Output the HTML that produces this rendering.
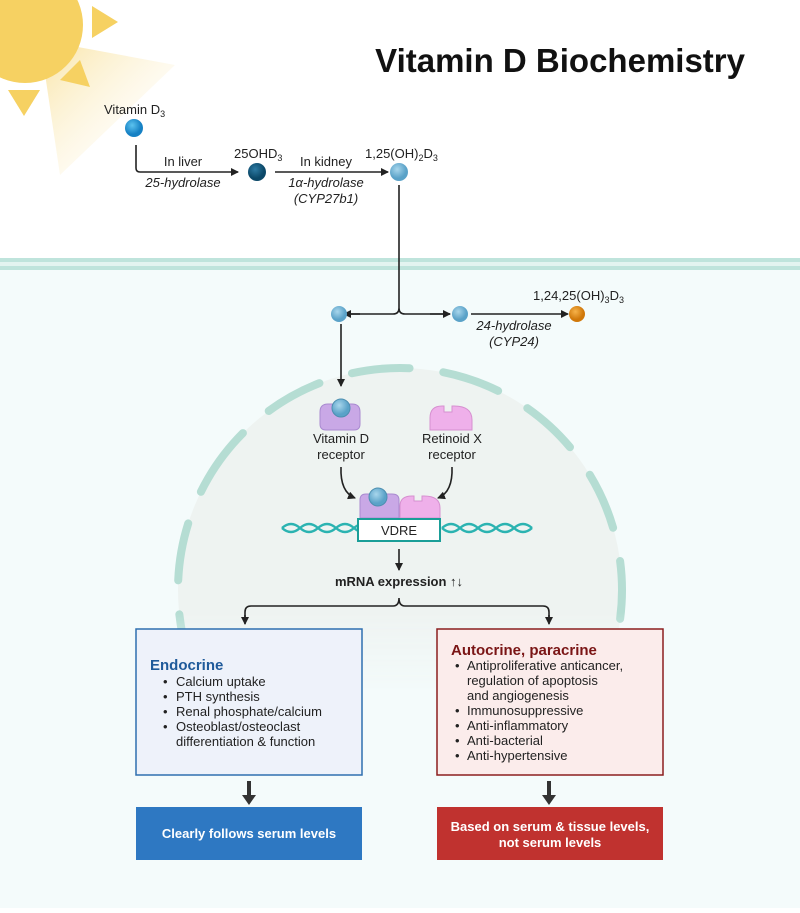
<!DOCTYPE html>
<html><head><meta charset="utf-8"><style>
body{margin:0;width:800px;height:908px;overflow:hidden;background:#fff;font-family:"Liberation Sans",sans-serif}
text{font-family:"Liberation Sans",sans-serif}
</style></head><body>
<svg width="800" height="908" viewBox="0 0 800 908" xmlns="http://www.w3.org/2000/svg">
<defs>
<marker id="a" markerWidth="8" markerHeight="8" refX="7" refY="4" orient="auto" markerUnits="userSpaceOnUse"><path d="M0,0L8,4L0,8z" fill="#222"/></marker>
<linearGradient id="ray" x1="0" y1="0" x2="1" y2="1"><stop offset="0" stop-color="#f7dc8a" stop-opacity=".8"/><stop offset="1" stop-color="#fff" stop-opacity="0"/></linearGradient>
<linearGradient id="fade" x1="0" y1="0" x2="0" y2="1"><stop offset="0.55" stop-color="#fff"/><stop offset="0.72" stop-color="#000"/></linearGradient>
<mask id="m" maskUnits="userSpaceOnUse" x="0" y="360" width="800" height="460"><rect x="0" y="360" width="800" height="460" fill="url(#fade)"/></mask>
<radialGradient id="b1" cx=".4" cy=".35"><stop offset="0" stop-color="#5cc3ef"/><stop offset="1" stop-color="#1681c4"/></radialGradient>
<radialGradient id="b2" cx=".4" cy=".35"><stop offset="0" stop-color="#2d7aa3"/><stop offset="1" stop-color="#0b4868"/></radialGradient>
<radialGradient id="b3" cx=".4" cy=".35"><stop offset="0" stop-color="#a8d6ec"/><stop offset="1" stop-color="#5aa2c8"/></radialGradient>
<radialGradient id="b4" cx=".4" cy=".35"><stop offset="0" stop-color="#f6b24a"/><stop offset="1" stop-color="#d0780a"/></radialGradient>
</defs>
<!-- sun -->
<polygon points="40,40 175,65 60,175" fill="url(#ray)"/>
<circle cx="25" cy="25" r="58" fill="#f6d162"/>
<polygon points="92,6 118,22 92,38" fill="#f6d162"/>
<polygon points="60,80 90,87 80,60" fill="#f6d162"/>
<polygon points="8,90 40,90 24,116" fill="#f6d162"/>
<text x="745" y="72" text-anchor="end" font-size="33" font-weight="bold" fill="#111">Vitamin D Biochemistry</text>
<!-- top pathway -->
<text x="104" y="114" font-size="13" fill="#222">Vitamin D<tspan font-size="9" dy="3">3</tspan></text>
<circle cx="134" cy="128" r="9" fill="url(#b1)"/>
<path d="M136,145 V168 Q136,172 140,172 H238" stroke="#222" stroke-width="1.6" fill="none" marker-end="url(#a)"/>
<text x="183" y="166" font-size="13" text-anchor="middle" fill="#222">In liver</text>
<text x="183" y="187" font-size="13" font-style="italic" text-anchor="middle" fill="#222">25-hydrolase</text>
<text x="234" y="158" font-size="13" fill="#222">25OHD<tspan font-size="9" dy="3">3</tspan></text>
<circle cx="257" cy="172" r="9" fill="url(#b2)"/>
<path d="M275,172 H388" stroke="#222" stroke-width="1.6" fill="none" marker-end="url(#a)"/>
<text x="326" y="166" font-size="13" text-anchor="middle" fill="#222">In kidney</text>
<text x="326" y="187" font-size="13" font-style="italic" text-anchor="middle" fill="#222">1α-hydrolase</text>
<text x="326" y="203" font-size="13" font-style="italic" text-anchor="middle" fill="#222">(CYP27b1)</text>
<text x="365" y="158" font-size="13" fill="#222">1,25(OH)<tspan font-size="9" dy="3">2</tspan><tspan dy="-3">D</tspan><tspan font-size="9" dy="3">3</tspan></text>
<circle cx="399" cy="172" r="9" fill="url(#b3)"/>
<!-- membrane -->
<rect x="0" y="268" width="800" height="640" fill="#f4fbfb"/>
<rect x="0" y="258" width="800" height="12" fill="#bfe4dc"/>
<rect x="0" y="262" width="800" height="4" fill="#e3f4f0"/>
<path d="M399,185 V308 Q399,314 393,314 H344 M399,308 Q399,314 405,314 H450" stroke="#222" stroke-width="1.6" fill="none"/>
<path d="M360,314 H344" stroke="#222" stroke-width="1.6" marker-end="url(#a)"/>
<path d="M430,314 H450" stroke="#222" stroke-width="1.6" marker-end="url(#a)"/>
<circle cx="339" cy="314" r="8" fill="url(#b3)"/>
<circle cx="460" cy="314" r="8" fill="url(#b3)"/>
<path d="M471,314 H568" stroke="#222" stroke-width="1.6" marker-end="url(#a)"/>
<circle cx="577" cy="314" r="8" fill="url(#b4)"/>
<text x="533" y="300" font-size="13" fill="#222">1,24,25(OH)<tspan font-size="9" dy="3">3</tspan><tspan dy="-3">D</tspan><tspan font-size="9" dy="3">3</tspan></text>
<text x="514" y="330" font-size="13" font-style="italic" text-anchor="middle" fill="#222">24-hydrolase</text>
<text x="514" y="346" font-size="13" font-style="italic" text-anchor="middle" fill="#222">(CYP24)</text>
<!-- nucleus -->
<g mask="url(#m)">
<circle cx="400" cy="590" r="222" fill="#eef3f1"/>
<circle cx="400" cy="590" r="222" fill="none" stroke="#b5ddd3" stroke-width="8" stroke-linecap="round" stroke-dasharray="58 34" transform="rotate(-150 400 590)"/>
</g>
<path d="M341,324 V386" stroke="#222" stroke-width="1.6" marker-end="url(#a)"/>
<!-- receptors -->
<path d="M320,412 Q320,404 328,404 H352 Q360,404 360,412 V424 Q360,430 354,430 H326 Q320,430 320,424 Z" fill="#c9a8e6" stroke="#a98ad0"/>
<circle cx="341" cy="408" r="9" fill="url(#b3)" stroke="#4d8fb0"/>
<text x="341" y="443" font-size="13" text-anchor="middle" fill="#222">Vitamin D</text>
<text x="341" y="459" font-size="13" text-anchor="middle" fill="#222">receptor</text>
<path d="M430,430 V418 Q430,406 442,406 H444 V412 H452 V406 H454 Q472,406 472,420 V430 Z" fill="#efb0ea" stroke="#d690d0"/>
<text x="452" y="443" font-size="13" text-anchor="middle" fill="#222">Retinoid X</text>
<text x="452" y="459" font-size="13" text-anchor="middle" fill="#222">receptor</text>
<path d="M341,467 Q340,492 355,498" stroke="#222" stroke-width="1.6" fill="none" marker-end="url(#a)"/>
<path d="M452,467 Q453,492 438,498" stroke="#222" stroke-width="1.6" fill="none" marker-end="url(#a)"/>
<path d="M360,500 Q360,494 366,494 H392 Q399,494 399,500 V518 H360 Z" fill="#c9a8e6" stroke="#a98ad0"/>
<circle cx="378" cy="497" r="9" fill="url(#b3)" stroke="#4d8fb0"/>
<path d="M400,518 V506 Q400,496 412,496 H414 V501 H422 V496 H424 Q440,496 440,508 V518 Z" fill="#efb0ea" stroke="#d690d0"/>
<!-- DNA -->
<g stroke="#2bb3b1" stroke-width="2.5" fill="none">
<path d="M282,528 q9,-8 18,0 t18,0 t18,0 t18,0 t18,0"/>
<path d="M282,528 q9,8 18,0 t18,0 t18,0 t18,0 t18,0"/>
<path d="M442,528 q9,-8 18,0 t18,0 t18,0 t18,0 t18,0"/>
<path d="M442,528 q9,8 18,0 t18,0 t18,0 t18,0 t18,0"/>
</g>
<rect x="358" y="519" width="82" height="22" fill="#fff" stroke="#1a9e98" stroke-width="2"/>
<text x="399" y="535" font-size="13" text-anchor="middle" fill="#222">VDRE</text>
<path d="M399,549 V570" stroke="#222" stroke-width="1.6" marker-end="url(#a)"/>
<text x="399" y="586" font-size="13" font-weight="bold" text-anchor="middle" fill="#222">mRNA expression ↑↓</text>
<path d="M245,620 V612 Q245,606 251,606 H393 Q399,606 399,598 Q399,606 405,606 H543 Q549,606 549,612 V620" stroke="#222" stroke-width="1.6" fill="none"/>
<path d="M245,615 V624" stroke="#222" stroke-width="1.6" marker-end="url(#a)"/>
<path d="M549,615 V624" stroke="#222" stroke-width="1.6" marker-end="url(#a)"/>
<!-- boxes -->
<rect x="136" y="629" width="226" height="146" fill="#eef2fa" stroke="#2f6fb0" stroke-width="1.5"/>
<text x="150" y="670" font-size="15" font-weight="bold" fill="#1f5a9a">Endocrine</text>
<g font-size="13" fill="#222">
<text x="163" y="686">•</text><text x="176" y="686">Calcium uptake</text>
<text x="163" y="701">•</text><text x="176" y="701">PTH synthesis</text>
<text x="163" y="716">•</text><text x="176" y="716">Renal phosphate/calcium</text>
<text x="163" y="731">•</text><text x="176" y="731">Osteoblast/osteoclast</text>
<text x="176" y="746">differentiation &amp; function</text>
</g>
<rect x="437" y="629" width="226" height="146" fill="#fbeceb" stroke="#8b1e1e" stroke-width="1.5"/>
<text x="451" y="655" font-size="15" font-weight="bold" fill="#7a1515">Autocrine, paracrine</text>
<g font-size="13" fill="#222">
<text x="455" y="670">•</text><text x="467" y="670">Antiproliferative anticancer,</text>
<text x="467" y="685">regulation of apoptosis</text>
<text x="467" y="700">and angiogenesis</text>
<text x="455" y="715">•</text><text x="467" y="715">Immunosuppressive</text>
<text x="455" y="730">•</text><text x="467" y="730">Anti-inflammatory</text>
<text x="455" y="745">•</text><text x="467" y="745">Anti-bacterial</text>
<text x="455" y="760">•</text><text x="467" y="760">Anti-hypertensive</text>
</g>
<path d="M249,781 V797" stroke="#333" stroke-width="4"/><path d="M242,795 L249,805 L256,795z" fill="#333"/>
<path d="M549,781 V797" stroke="#333" stroke-width="4"/><path d="M542,795 L549,805 L556,795z" fill="#333"/>
<rect x="136" y="807" width="226" height="53" fill="#2e78c2"/>
<text x="249" y="838" font-size="13" font-weight="bold" fill="#fff" text-anchor="middle">Clearly follows serum levels</text>
<rect x="437" y="807" width="226" height="53" fill="#c0322f"/>
<text x="550" y="831" font-size="13" font-weight="bold" fill="#fff" text-anchor="middle">Based on serum &amp; tissue levels,</text>
<text x="550" y="847" font-size="13" font-weight="bold" fill="#fff" text-anchor="middle">not serum levels</text>
</svg>
</body></html>
